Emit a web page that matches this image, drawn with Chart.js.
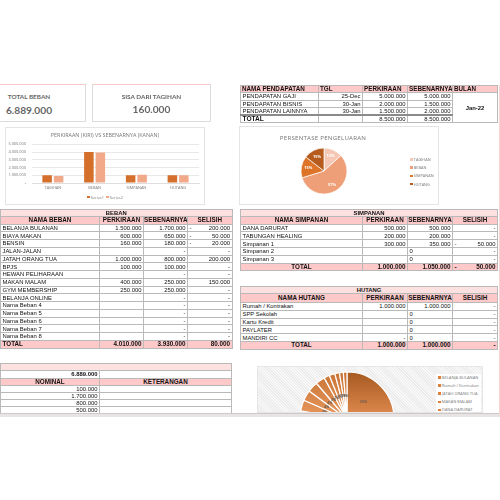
<!DOCTYPE html>
<html>
<head>
<meta charset="utf-8">
<script src="https://cdn.jsdelivr.net/npm/chart.js@4"></script>
<style>
  html, body { margin: 0; padding: 0; background: #fff; }
  body { width: 500px; height: 500px; overflow: hidden; position: relative; }
  #sheet { position: absolute; left: 0; top: 0; width: 500px; height: 500px; overflow: hidden; filter: blur(.45px); }
  .abs { position: absolute; }
  .card { position: absolute; background: #fff; border: 1px solid #dcdcdc; border-top: 1.5px solid #fbc8c8; box-sizing: border-box; }
  .card div { position: absolute; left: 0; right: 0; text-align: center; font-family: Lato, sans-serif; font-weight: 700; color: #666; white-space: nowrap; }
  .box { position: absolute; background: #fff; border: 1px solid #e4e4e4; box-sizing: border-box; }
  .ctitle { position: absolute; font-family: "Open Sans", sans-serif; color: #777; white-space: nowrap; transform: translateX(-50%); }
  .lg { position: absolute; font-family: "Open Sans", sans-serif; font-size: 3.9px; line-height: 5px; color: #777; white-space: nowrap; }
  .lg i { display: inline-block; width: 2.6px; height: 2.6px; margin-right: 1.2px; vertical-align: 0.2px; }
  table { position: absolute; border-collapse: collapse; table-layout: fixed; font-family: "Liberation Sans", Arial, sans-serif; font-size: 5.9px; color: #111; background: #fff; }
  td { border: 1px solid #b9b9b9; padding: 0 1.5px; white-space: nowrap; overflow: hidden; line-height: 6px; text-align: left; }
  td.r { text-align: right; }
  td.c { text-align: center; }
  td.b { font-weight: 700; }
  td.ttl { background: #fde1e1; font-weight: 700; text-align: center; }
  td.hd { background: #ffc9c9; font-weight: 700; text-align: center; font-size: 6.3px; padding: 0; }
  td.tot { background: #ffc9c9; font-weight: 700; font-size: 6.3px; }
  td span { float: left; }
</style>
</head>
<body>
<div id="sheet">
  <div class="card" style="left:-2px;top:84px;width:88px;height:38px">
    <div style="top:8px;font-size:6.4px;left:-25px;right:auto;width:110px">TOTAL BEBAN</div>
    <div style="top:18.5px;font-size:10.2px;left:-25px;right:auto;width:110px">6.889.000</div>
  </div>
  <div class="card" style="left:92px;top:84px;width:119px;height:38px">
    <div style="top:8px;font-size:6.4px">SISA DARI TAGIHAN</div>
    <div style="top:18px;font-size:10.2px">160.000</div>
  </div>

  <div class="box" style="left:5px;top:127px;width:200px;height:78px"></div>
  <div class="ctitle" style="left:105px;top:131px;font-size:5.4px;line-height:8px">PERKIRAAN (KIRI) VS SEBENARNYA (KANAN)</div>
  <canvas id="barChart" class="abs" width="200" height="78" style="left:5px;top:127px"></canvas>
  <div id="barLegend" class="lg" style="left:87px;top:194.5px"></div>

  <div class="box" style="left:239px;top:126px;width:200px;height:79px"></div>
  <div class="ctitle" style="left:323px;top:133px;font-size:6.1px;line-height:9px;letter-spacing:.25px">PERSENTASE PENGELUARAN</div>
  <canvas id="pieChart" class="abs" width="60" height="60" style="left:294px;top:141px"></canvas>
  <div id="pieLegend" class="lg" style="left:410px;top:156px;line-height:8.2px"></div>

  <div class="abs" style="left:257px;top:366px;width:226px;height:47px;overflow:hidden;background:repeating-linear-gradient(45deg,#ececec 0,#ececec 1px,#f8f8f8 1px,#f8f8f8 2px);border:1px solid #e6e6e6;box-sizing:border-box">
    <canvas id="allChart" class="abs" width="120" height="120" style="left:29px;top:-8px"></canvas>
    <div id="allLegend" class="lg" style="left:178px;top:7px;width:43px;padding-left:2px;background:#fff;line-height:8.1px;height:50px;font-size:4.1px"></div>
  </div>

  <div id="tables"></div>

  <div class="abs" style="left:0;top:413px;width:500px;height:3.5px;background:#e9e4e4;border-top:1px solid #cfc8c8;box-sizing:border-box"></div>
  <div class="abs" style="left:498.5px;top:85px;width:1.5px;height:329px;background:#f6d5d5"></div>
</div>

<script>
// ringkasan (chart atas)
const ringkasanLabels = ['TAGIHAN', 'BEBAN', 'SIMPANAN', 'HUTANG'];
const ringkasanPerkiraan = [1000000, 4010000, 1000000, 1000000];
const ringkasanSebenarnya = [909000, 3930000, 1050000, 1000000];
const yTicks = [0, 1000000, 2000000, 3000000, 4000000, 5000000];
const seriesNames = ['Series1', 'Series2'];
const pieColors = ['#f4c8b5', '#ee9f78', '#de7428', '#b65b1e'];

// pie bawah, nilai dibaca dari lebar irisan
const allLabels = ['BELANJA BULANAN', 'Rumah / Kontrakan', 'JATAH ORANG TUA', 'MAKAN MALAM', 'DANA DARURAT'];
const allValues = [1700000, 1000000, 800000, 650000, 500000, 358000, 350000, 258000, 249000, 249000, 220000, 134000, 134000, 109000, 92000, 86000];

// tabel pendapatan
const pendapatanNama = ['PENDAPATAN GAJI', 'PENDAPATAN BISNIS', 'PENDAPATAN LAINNYA'];
const pendapatanTgl = ['25-Dec', '30-Jan', '30-Jan'];
const pendapatanPerkiraan = [5000000, 2000000, 1500000];
const pendapatanSebenarnya = [5000000, 1500000, 2000000];

// tabel beban
const bebanNama = ['BELANJA BULANAN', 'BIAYA MAKAN', 'BENSIN', 'JALAN-JALAN', 'JATAH ORANG TUA', 'BPJS', 'HEWAN PELIHARAAN', 'MAKAN MALAM', 'GYM MEMBERSHIP', 'BELANJA ONLINE', 'Nama Beban 4', 'Nama Beban 5', 'Nama Beban 6', 'Nama Beban 7', 'Nama Beban 8'];
const bebanPerkiraan = [1500000, 600000, 160000, null, 1000000, 100000, null, 400000, 250000, null, null, null, null, null, null];
const bebanSebenarnya = [1700000, 650000, 180000, 0, 800000, 100000, 0, 250000, 250000, 0, 0, 0, 0, 0, 0];
const bebanSelisih = [-200000, -50000, -20000, 0, 200000, 0, 0, 150000, 0, 0, 0, 0, 0, 0, 0];

// tabel simpanan
const simpananNama = ['DANA DARURAT', 'TABUNGAN HEALING', 'Simpanan 1', 'Simpanan 2', 'Simpanan 3'];
const simpananPerkiraan = [500000, 200000, 300000, null, null];
const simpananSebenarnya = [500000, 200000, 350000, '0', '0'];
const simpananSelisih = [0, 0, -50000, 0, 0];

// tabel hutang
const hutangNama = ['Rumah / Kontrakan', 'SPP Sekolah', 'Kartu Kredit', 'PAYLATER', 'MANDIRI CC'];
const hutangPerkiraan = [1000000, null, null, null, 0];
const hutangSebenarnya = [1000000, '0', '0', '0', '0'];
const hutangSelisih = [0, 0, 0, 0, 0];

// tabel tagihan (bawah)
const tagihanNominal = [100000, 1700000, 800000, 500000];

const rp = n => Number(n).toLocaleString('de-DE');
const axis = v => v === 0 ? '-' : rp(v);

function cell(v, extra = '') {
  if (v === null) return `<td class="${extra}"></td>`;
  if (typeof v === 'string') return `<td class="${extra}">${v}</td>`;
  if (v === 0) return `<td class="r ${extra}">-</td>`;
  if (v < 0) return `<td class="r ${extra}"><span>-</span>${rp(-v)}</td>`;
  return `<td class="r ${extra}">${rp(v)}</td>`;
}

function sheetTable(left, top, cols, title, head, heights, names, a, b, c, totals, totalClass) {
  const [hTitle, hHead, hRow, hTotal] = heights;
  const colgroup = cols.map(w => `<col style="width:${w}px">`).join('');
  const rows = names.map((n, i) => `<tr style="height:${hRow}px"><td>${n}</td>${cell(a[i])}${cell(b[i])}${cell(c[i])}</tr>`).join('');
  return `<table style="left:${left}px;top:${top}px;width:${cols.reduce((s, w) => s + w, 0)}px">
    <colgroup>${colgroup}</colgroup>
    <tr style="height:${hTitle}px"><td class="ttl" colspan="4">${title}</td></tr>
    <tr style="height:${hHead}px">${head.map(h => `<td class="hd">${h}</td>`).join('')}</tr>
    ${rows}
    <tr style="height:${hTotal}px"><td class="tot ${totalClass}">TOTAL</td>${totals.map(t => cell(t, 'tot')).join('')}</tr>
  </table>`;
}

const pendapatanTable = `<table style="left:240px;top:85px;width:257px">
  <colgroup><col style="width:78px"><col style="width:44px"><col style="width:45px"><col style="width:45px"><col style="width:45px"></colgroup>
  <tr style="height:7px">${['NAMA PENDAPATAN', 'TGL', 'PERKIRAAN', 'SEBENARNYA', 'BULAN'].map(h => `<td class="hd" style="text-align:left;padding-left:1px">${h}</td>`).join('')}</tr>
  ${pendapatanNama.map((n, i) => `<tr style="height:7.5px"><td>${n}</td><td class="r">${pendapatanTgl[i]}</td>${cell(pendapatanPerkiraan[i])}${cell(pendapatanSebenarnya[i])}${i === 0 ? '<td class="c b" rowspan="4">Jan-22</td>' : ''}</tr>`).join('')}
  <tr style="height:7px"><td class="b" style="font-size:6.6px;border-top:2px solid #8a8a8a">TOTAL</td><td style="border-top:2px solid #8a8a8a"></td>${cell(8500000, '" style="border-top:2px solid #8a8a8a')}${cell(8500000, '" style="border-top:2px solid #8a8a8a')}</tr>
</table>`;

const tagihanTable = `<table style="left:0;top:363px;width:231px">
  <colgroup><col style="width:99px"><col style="width:132px"></colgroup>
  <tr style="height:7px"><td class="ttl" colspan="2"></td></tr>
  <tr style="height:7.5px"><td class="r b">${rp(6889000)}</td><td></td></tr>
  <tr style="height:7.5px"><td class="hd">NOMINAL</td><td class="hd">KETERANGAN</td></tr>
  ${tagihanNominal.map(v => `<tr style="height:7.1px">${cell(v)}<td></td></tr>`).join('')}
</table>`;

document.getElementById('tables').innerHTML = pendapatanTable + tagihanTable
  + sheetTable(0, 209, [99, 44, 44, 44.5], 'BEBAN', ['NAMA BEBAN', 'PERKIRAAN', 'SEBENARNYA', 'SELISIH'], [7, 7.5, 7.75, 8], bebanNama, bebanPerkiraan, bebanSebenarnya, bebanSelisih, [4010000, 3930000, 80000], '')
  + sheetTable(240, 209, [122, 45, 45, 45], 'SIMPANAN', ['NAMA SIMPANAN', 'PERKIRAAN', 'SEBENARNYA', 'SELISIH'], [7, 7.5, 7.85, 7.6], simpananNama, simpananPerkiraan, simpananSebenarnya, simpananSelisih, [1000000, 1050000, -50000], 'c')
  + sheetTable(240, 286, [122, 45, 45, 45], 'HUTANG', ['NAMA HUTANG', 'PERKIRAAN', 'SEBENARNYA', 'SELISIH'], [6.7, 9, 7.8, 7.6], hutangNama, hutangPerkiraan, hutangSebenarnya, hutangSelisih, [1000000, 1000000, 0], 'c');

const swatch = (c, t) => `<i style="background:${c}"></i>${t}`;
document.getElementById('barLegend').innerHTML = seriesNames.map((s, i) => swatch(['#d4702c', '#f2a98a'][i], s)).join('&nbsp;&nbsp;');
document.getElementById('pieLegend').innerHTML = ringkasanLabels.map((s, i) => swatch(pieColors[i], s)).join('<br>');
document.getElementById('allLegend').innerHTML = allLabels.map(s => swatch('#e07f3a', s)).join('<br>');

Chart.defaults.font.family = '"Open Sans", sans-serif';
Chart.defaults.animation = false;

// label persen di dalam irisan
const percentLabels = {
  id: 'percentLabels',
  afterDatasetsDraw(chart, args, opts) {
    const { ctx } = chart;
    const meta = chart.getDatasetMeta(0);
    const data = chart.data.datasets[0].data;
    const total = data.reduce((s, v) => s + v, 0);
    ctx.save();
    ctx.font = `${opts.weight || 400} ${opts.size}px "Open Sans", sans-serif`;
    ctx.fillStyle = opts.color;
    ctx.textAlign = 'center';
    ctx.textBaseline = 'middle';
    meta.data.forEach((arc, i) => {
      const mid = (arc.startAngle + arc.endAngle) / 2;
      const x = arc.x + Math.cos(mid) * arc.outerRadius * opts.at;
      const y = arc.y + Math.sin(mid) * arc.outerRadius * opts.at;
      ctx.fillText(Math.round(data[i] / total * 100) + '%', x, y);
    });
    ctx.restore();
  }
};

new Chart(document.getElementById('barChart'), {
  type: 'bar',
  data: {
    labels: ringkasanLabels,
    datasets: [
      { label: seriesNames[0], data: ringkasanPerkiraan, backgroundColor: '#d4702c', categoryPercentage: 0.55, barPercentage: 0.83 },
      { label: seriesNames[1], data: ringkasanSebenarnya, backgroundColor: '#f2a98a', categoryPercentage: 0.55, barPercentage: 0.83 }
    ]
  },
  options: {
    responsive: false,
    layout: { padding: { top: 17.3, right: 6, bottom: 0, left: 0 } },
    plugins: { legend: { display: false }, tooltip: { enabled: false } },
    scales: {
      x: {
        grid: { display: false, drawTicks: false },
        border: { color: '#dedede' },
        ticks: { font: { size: 3.9 }, color: '#777', padding: 2.8, maxRotation: 0 },
        afterFit(s) { s.height = 22; }
      },
      y: {
        min: 0, max: 5000000,
        afterBuildTicks(s) { s.ticks = yTicks.map(v => ({ value: v })); },
        grid: { color: '#e8e8e8', drawTicks: false },
        border: { display: false },
        ticks: { font: { size: 3.9 }, color: '#777', padding: 6, callback: axis },
        afterFit(s) { s.width = 27; }
      }
    }
  }
});

new Chart(document.getElementById('pieChart'), {
  type: 'pie',
  data: {
    labels: ringkasanLabels,
    datasets: [{ data: ringkasanSebenarnya, backgroundColor: pieColors, borderColor: '#fff', borderWidth: 0.7 }]
  },
  options: {
    responsive: false,
    radius: 23,
    plugins: { legend: { display: false }, tooltip: { enabled: false }, percentLabels: { size: 3.9, weight: 700, color: '#fff', at: 0.7 } }
  },
  plugins: [percentLabels]
});

new Chart(document.getElementById('allChart'), {
  type: 'pie',
  data: {
    labels: allValues.map((v, i) => allLabels[i] || ''),
    datasets: [{
      data: allValues,
      borderColor: '#fff',
      borderWidth: 1.2,
      backgroundColor(c) {
        const g = c.chart.ctx.createLinearGradient(0, 12, 0, 60);
        if (c.dataIndex === 0) {
          g.addColorStop(0, '#a4591f');
          g.addColorStop(1, '#e48d52');
        } else {
          g.addColorStop(0, '#c87334');
          g.addColorStop(1, '#e8985f');
        }
        return g;
      }
    }]
  },
  options: {
    responsive: false,
    radius: 47,
    plugins: { legend: { display: false }, tooltip: { enabled: false }, percentLabels: { size: 3.6, weight: 600, color: '#555', at: 0.5 } }
  },
  plugins: [percentLabels]
});
</script>
</body>
</html>
